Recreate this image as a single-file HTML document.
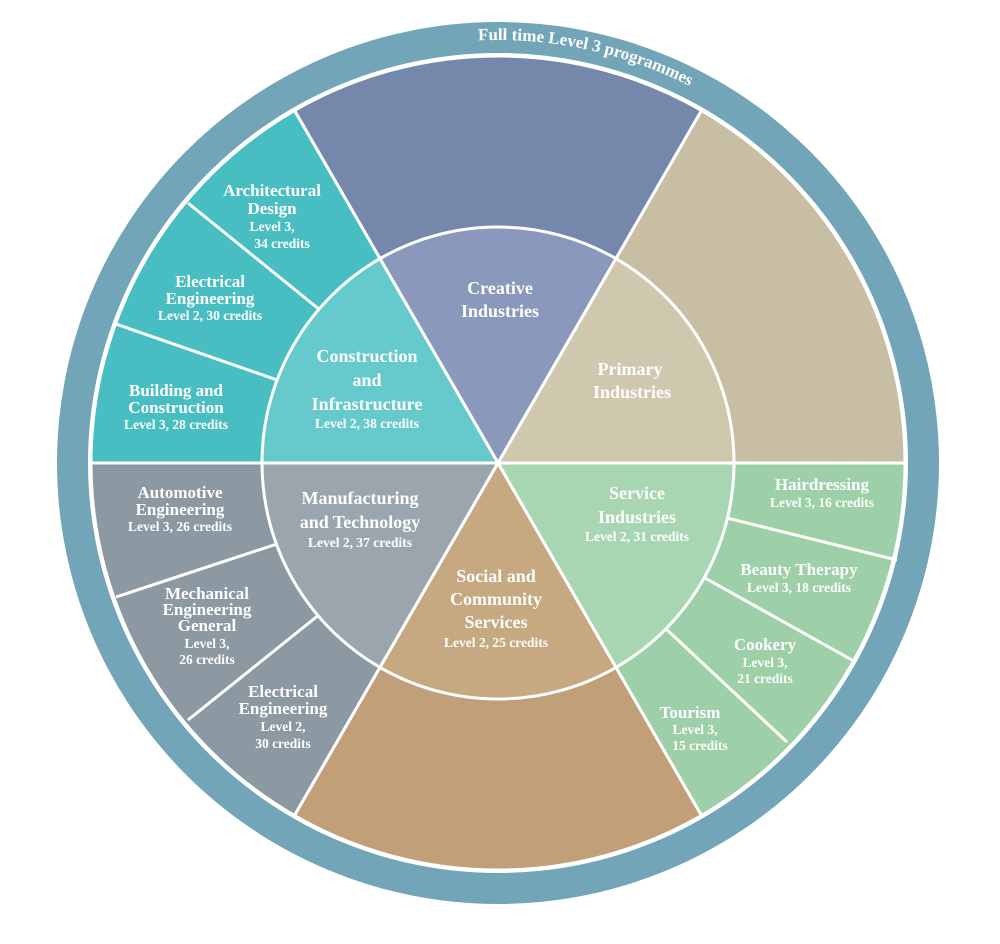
<!DOCTYPE html>
<html><head><meta charset="utf-8"><style>
html,body{margin:0;padding:0;background:#fff;}
svg text{font-family:"Liberation Serif",serif;fill:#fff;text-anchor:middle;}
.t{font-weight:bold;font-size:18px;}
.s{font-size:13.5px;font-weight:bold;}
.b{font-weight:bold;font-size:17px;}
</style></head><body>
<svg width="1000" height="939" viewBox="0 0 1000 939" xmlns="http://www.w3.org/2000/svg">
<defs>
<path id="tarc" d="M 75 463 A 423 423 0 0 1 921 463"/>
</defs>
<circle cx="498" cy="463" r="441" fill="#72a5b8"/>
<circle cx="498" cy="463" r="410" fill="#fff"/>
<g stroke="#fff" stroke-width="3">
<path d="M498 463 L701.5 110.5 A407 407 0 0 0 294.5 110.5 Z" fill="#7587ab"/>
<path d="M498 463 L294.5 110.5 A407 407 0 0 0 91 463 Z" fill="#48bec3"/>
<path d="M498 463 L91 463 A407 407 0 0 0 294.5 815.5 Z" fill="#8c98a2"/>
<path d="M498 463 L294.5 815.5 A407 407 0 0 0 701.5 815.5 Z" fill="#c19f79"/>
<path d="M498 463 L701.5 815.5 A407 407 0 0 0 905 463 Z" fill="#9dd0a9"/>
<path d="M498 463 L905 463 A407 407 0 0 0 701.5 110.5 Z" fill="#c8bea3"/>
<line x1="188" y1="203" x2="320" y2="310"/>
<line x1="113" y1="323" x2="280" y2="381"/>
<line x1="116" y1="597" x2="280" y2="543"/>
<line x1="188" y1="720" x2="320" y2="614"/>
<line x1="727" y1="518" x2="897" y2="560"/>
<line x1="705" y1="578" x2="852" y2="660"/>
<line x1="665" y1="628" x2="787" y2="742"/>
<path d="M498 463 L616 258.6 A236 236 0 0 0 380 258.6 Z" fill="#8a98bb"/>
<path d="M498 463 L380 258.6 A236 236 0 0 0 262 463 Z" fill="#66cacc"/>
<path d="M498 463 L262 463 A236 236 0 0 0 380 667.4 Z" fill="#9aa5ad"/>
<path d="M498 463 L380 667.4 A236 236 0 0 0 616 667.4 Z" fill="#c6a881"/>
<path d="M498 463 L616 667.4 A236 236 0 0 0 734 463 Z" fill="#a9d6b2"/>
<path d="M498 463 L734 463 A236 236 0 0 0 616 258.6 Z" fill="#d0c7af"/>
</g>
<text class="t" style="font-size:17px"><textPath href="#tarc" startOffset="48.5%" text-anchor="start">Full time Level 3 programmes</textPath></text>

<text class="t" x="500" y="294">Creative</text><text class="t" x="500" y="317">Industries</text>
<text class="t" x="630" y="375">Primary</text><text class="t" x="632" y="398">Industries</text>
<text class="t" x="367" y="362">Construction</text><text class="t" x="367" y="386">and</text><text class="t" x="367" y="410">Infrastructure</text><text class="s" x="367" y="428">Level 2, 38 credits</text>
<text class="t" x="360" y="504">Manufacturing</text><text class="t" x="360" y="528">and Technology</text><text class="s" x="360" y="547">Level 2, 37 credits</text>
<text class="t" x="496" y="582">Social and</text><text class="t" x="496" y="605">Community</text><text class="t" x="496" y="628">Services</text><text class="s" x="496" y="647">Level 2, 25 credits</text>
<text class="t" x="637" y="499">Service</text><text class="t" x="637" y="523">Industries</text><text class="s" x="637" y="541">Level 2, 31 credits</text>

<text class="b" x="272" y="196">Architectural</text><text class="b" x="272" y="214">Design</text><text class="s" x="272" y="231">Level 3,</text><text class="s" x="282" y="248">34 credits</text>
<text class="b" x="210" y="287">Electrical</text><text class="b" x="210" y="304">Engineering</text><text class="s" x="210" y="320">Level 2, 30 credits</text>
<text class="b" x="176" y="396">Building and</text><text class="b" x="176" y="413">Construction</text><text class="s" x="176" y="429">Level 3, 28 credits</text>
<text class="b" x="180" y="498">Automotive</text><text class="b" x="180" y="515">Engineering</text><text class="s" x="180" y="531">Level 3, 26 credits</text>
<text class="b" x="207" y="599">Mechanical</text><text class="b" x="207" y="615">Engineering</text><text class="b" x="207" y="631">General</text><text class="s" x="207" y="648">Level 3,</text><text class="s" x="207" y="664">26 credits</text>
<text class="b" x="283" y="697">Electrical</text><text class="b" x="283" y="714">Engineering</text><text class="s" x="283" y="731">Level 2,</text><text class="s" x="283" y="748">30 credits</text>
<text class="b" x="822" y="490">Hairdressing</text><text class="s" x="822" y="507">Level 3, 16 credits</text>
<text class="b" x="799" y="575">Beauty Therapy</text><text class="s" x="799" y="592">Level 3, 18 credits</text>
<text class="b" x="765" y="650">Cookery</text><text class="s" x="765" y="667">Level 3,</text><text class="s" x="765" y="683">21 credits</text>
<text class="b" x="690" y="718">Tourism</text><text class="s" x="695" y="734">Level 3,</text><text class="s" x="700" y="750">15 credits</text>
</svg>
</body></html>
